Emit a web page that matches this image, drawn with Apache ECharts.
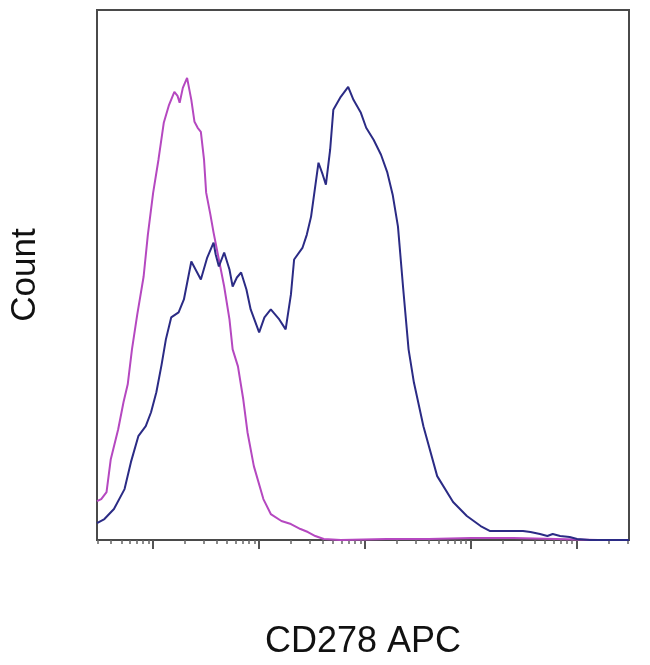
<!DOCTYPE html>
<html>
<head>
<meta charset="utf-8">
<script src="https://cdn.jsdelivr.net/npm/echarts@6/dist/echarts.min.js"></script>
<style>
html,body{margin:0;padding:0;background:#fff;}
#chart{width:650px;height:665px;}
</style>
</head>
<body>
<div id="chart"></div>
<script>
// x values are in log10 decades of CD278 APC fluorescence; y values are event counts
var isotypeX = [0.47,0.51,0.56,0.60,0.67,0.72,0.76,0.80,0.85,0.91,0.95,1.00,1.05,1.10,1.15,1.20,1.23,1.25,1.28,1.32,1.36,1.39,1.42,1.45,1.48,1.50,1.54,1.57,1.62,1.67,1.72,1.75,1.80,1.85,1.89,1.95,2.04,2.11,2.21,2.30,2.39,2.46,2.53,2.61,2.77,3.20,3.60,4.00,4.40,4.80,5.20,5.49];
var isotypeY = [39,41,48,81,111,138,156,191,226,264,306,348,381,418,436,449,445,438,453,463,441,419,413,409,381,348,326,308,281,254,221,191,174,141,108,74,41,26,19,16,11,8,4,1,0,1,1,2,2,1,0,0];

var cd278X = [0.47,0.54,0.63,0.73,0.79,0.86,0.93,0.98,1.03,1.08,1.12,1.17,1.24,1.29,1.36,1.41,1.45,1.51,1.57,1.59,1.62,1.67,1.72,1.75,1.79,1.83,1.88,1.92,2.00,2.05,2.11,2.19,2.25,2.30,2.33,2.41,2.45,2.49,2.56,2.60,2.63,2.67,2.70,2.77,2.84,2.89,2.96,3.01,3.08,3.15,3.21,3.26,3.31,3.36,3.41,3.46,3.55,3.68,3.83,3.96,4.09,4.18,4.34,4.49,4.56,4.65,4.72,4.77,4.84,4.93,5.00,5.12,5.49];
var cd278Y = [17,21,31,51,78,104,114,128,148,176,201,223,228,241,279,269,261,283,298,286,274,288,271,254,263,268,251,231,208,223,231,221,211,246,281,293,306,324,378,366,356,391,431,444,454,441,428,413,401,386,368,346,314,251,191,158,114,64,38,24,14,9,9,9,8,6,4,6,4,3,1,0,0];

var majorTicks = [1,2,3,4,5];
var minorMultipliers = [2,3,4,5,6,7,8,9];
var xMin = 0.47, xMax = 5.49, yMax = 531;

function pairs(xs, ys){ return xs.map(function(x,i){ return [x, ys[i]]; }); }
var minorTicks = [];
[0,1,2,3,4,5].forEach(function(d){
  minorMultipliers.forEach(function(m){
    var v = d + Math.log10(m);
    if (v > xMin && v < xMax) minorTicks.push(v);
  });
});

var chart = echarts.init(document.getElementById('chart'));
var font = '"Liberation Sans", Arial, sans-serif';
chart.setOption({
  animation: false,
  backgroundColor: '#ffffff',
  grid: {left: 96, right: 21, top: 10, bottom: 124, show: true, borderColor: '#4a4a4a', borderWidth: 2, backgroundColor: 'transparent'},
  xAxis: [{
    type: 'value', min: xMin, max: xMax,
    name: 'CD278 APC', nameLocation: 'middle', nameGap: 84,
    nameTextStyle: {fontFamily: font, fontSize: 36, color: '#111'},
    axisLine: {show: true, lineStyle: {color: '#4a4a4a', width: 2}},
    axisTick: {show: true, customValues: majorTicks, length: 9, lineStyle: {color: '#555', width: 2}},
    axisLabel: {show: false}, splitLine: {show: false}
  },{
    type: 'value', min: xMin, max: xMax, position: 'bottom', gridIndex: 0,
    axisLine: {show: false},
    axisTick: {show: true, customValues: minorTicks, length: 4, lineStyle: {color: '#666', width: 1.5}},
    axisLabel: {show: false}, splitLine: {show: false}
  }],
  yAxis: {
    type: 'value', min: 0, max: yMax,
    name: 'Count', nameLocation: 'middle', nameGap: 54, nameRotate: 90,
    nameTextStyle: {fontFamily: font, fontSize: 35, color: '#111'},
    axisLine: {show: false}, axisTick: {show: false}, axisLabel: {show: false}, splitLine: {show: false}
  },
  series: [{
    type: 'line', name: 'Isotype', data: pairs(isotypeX, isotypeY), showSymbol: false, smooth: false,
    lineStyle: {color: '#b548c0', width: 2}, z: 2
  },{
    type: 'line', name: 'CD278', data: pairs(cd278X, cd278Y), showSymbol: false, smooth: false,
    lineStyle: {color: '#2b2b85', width: 2}, z: 3
  }]
});
</script>
</body>
</html>
